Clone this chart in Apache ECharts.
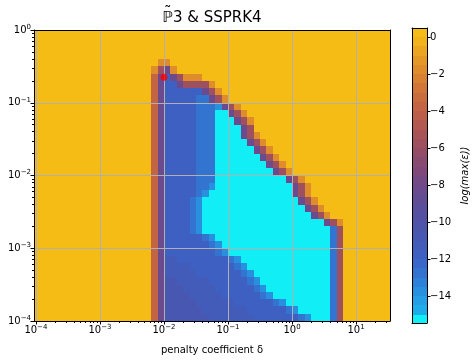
<!DOCTYPE html>
<html><head><meta charset="utf-8">
<script src="https://cdn.jsdelivr.net/npm/echarts@6/dist/echarts.min.js"></script>
<style>html,body{margin:0;padding:0;background:#fff}#c{width:474px;height:361px}</style>
</head><body><div id="c"></div>
<script>
// ---------------- DATA ----------------
// log10(penalty coefficient δ) at the centre of each grid column
const deltaExp = [-3.95,-3.85,-3.75,-3.65,-3.55,-3.45,-3.35,-3.25,-3.15,-3.05,
  -2.95,-2.85,-2.75,-2.65,-2.55,-2.45,-2.35,-2.25,-2.15,-2.05,
  -1.95,-1.85,-1.75,-1.65,-1.55,-1.45,-1.35,-1.25,-1.15,-1.05,
  -0.95,-0.85,-0.75,-0.65,-0.55,-0.45,-0.35,-0.25,-0.15,-0.05,
  0.05,0.15,0.25,0.35,0.45,0.55,0.65,0.75,0.85,0.95,
  1.05,1.15,1.25,1.35,1.45,1.55];
// log10 of the vertical-axis quantity at the centre of each grid row (top to bottom)
const tauExp = [-0.05,-0.15,-0.25,-0.35,-0.45,-0.55,-0.65,-0.75,-0.85,-0.95,
  -1.05,-1.15,-1.25,-1.35,-1.45,-1.55,-1.65,-1.75,-1.85,-1.95,
  -2.05,-2.15,-2.25,-2.35,-2.45,-2.55,-2.65,-2.75,-2.85,-2.95,
  -3.05,-3.15,-3.25,-3.35,-3.45,-3.55,-3.65,-3.75,-3.85,-3.95];
// log(max(ε)) value for each code used in the rows below
const codeValue = {Y:0.2, o:-1.6, r:-3.8, m:-5.5, p:-8.2, i:-10.8, j:-11.3, b:-11.8, c:-12.8, l:-13.8, C:-15.2};
// rows of the value matrix (run-length: code + repeat count)
const zRows = [
  "Y56","Y56","Y56","Y56",
  "Y19 o o Y35",
  "Y18 o m p o Y34",
  "Y18 r p b p m o3 Y30",
  "Y18 r p b2 p m4 o Y28",
  "Y18 r p b6 p m o Y27",
  "Y18 r p b5 c2 p m o Y26",
  "Y18 r p b5 c3 l p m o Y24",
  "Y18 r p b5 c3 C2 p m o Y23",
  "Y18 r p b5 c3 C3 p m o Y22",
  "Y18 r p b5 c3 C4 p m Y22",
  "Y18 r p b5 c3 C4 p m o Y21",
  "Y18 r p b5 c3 C5 p m o Y20",
  "Y18 r p b5 c3 C6 p m o Y19",
  "Y18 r p b5 c3 C7 p m o Y18",
  "Y18 r p b5 c3 C8 p m o Y17",
  "Y18 r p b5 c3 C9 p m o Y16",
  "Y18 r p b5 c3 C11 p m o Y14",
  "Y18 r p b5 c2 l C12 p m o Y13",
  "Y18 r p b5 c l C13 p m o Y13",
  "Y18 r p b4 c l C15 p m o Y12",
  "Y18 r p b4 c l C16 p m o Y11",
  "Y18 r p b4 c l C17 p m o Y10",
  "Y18 r p b4 c l C19 p m o Y8",
  "Y18 r p b4 c l C20 c m Y8",
  "Y18 r p b6 c l C18 c m Y8",
  "Y18 r p b7 c l C17 c m Y8",
  "Y18 r p b8 c l C16 c m Y8",
  "Y18 r p j2 b8 c l C14 c m Y8",
  "Y18 r p j4 b7 c l C13 c m Y8",
  "Y18 r p j5 b7 c l C12 c m Y8",
  "Y18 r p i2 j5 b6 c l C11 c m Y8",
  "Y18 r p i3 j5 b6 c l C10 c m Y8",
  "Y18 r p i4 j5 b6 c l C9 c m Y8",
  "Y18 r p i5 j6 b6 c l C7 c m Y8",
  "Y18 r p i6 j7 b6 c l C5 c m Y8",
  "Y18 r p i7 j7 b7 c l C3 c m Y8"
];
// contour levels (colour bands), top to bottom
const levels = [0.5,0,-0.5,-1,-1.5,-2,-2.5,-3,-3.5,-4,-4.5,-5,-5.5,-6,-6.5,-7,-7.5,-8,-8.5,-9,-9.5,
  -10,-10.5,-11,-11.5,-12,-12.5,-13,-13.5,-14,-14.5,-15,-15.45];
const xTickExp = [-4,-3,-2,-1,0,1];
const yTickExp = [-4,-3,-2,-1,0];
const cbTicks = [0,-2,-4,-6,-8,-10,-12,-14];
const markerPoint = [0.01, 0.225];   // (δ, value) of the red dot
const titleMain = '\u21193 & SSPRK4';

// ---------------- STYLE ----------------
const X_MIN = -4.03, X_MAX = 1.53, Y_MIN = -4, Y_MAX = 0;
const FONT = 'DejaVu Sans';
const CMAP = [
  [0.5,[246,192,20]],[0,[244,184,22]],[-1,[233,158,36]],[-2,[220,134,47]],[-3,[206,113,58]],
  [-4,[191,96,70]],[-5,[174,85,83]],[-6,[154,78,98]],[-7,[132,74,116]],[-8,[111,74,137]],
  [-9,[93,78,153]],[-10,[79,82,166]],[-11,[69,89,180]],[-12,[60,98,198]],[-13,[48,122,212]],
  [-14,[38,150,226]],[-15,[28,180,236]],[-15.45,[24,190,240]]
];
const LAST_BAND = 'rgb(18,238,246)';
function cmapAt(v){
  for (let i=0;i<CMAP.length-1;i++){
    const a=CMAP[i], b=CMAP[i+1];
    if (v<=a[0] && v>=b[0]){
      const t=(a[0]-v)/(a[0]-b[0]);
      const c=a[1].map((x,j)=>Math.round(x+(b[1][j]-x)*t));
      return 'rgb('+c.join(',')+')';
    }
  }
  return v>CMAP[0][0] ? 'rgb('+CMAP[0][1].join(',')+')' : LAST_BAND;
}
const bandColors = [];
for (let i=0;i<levels.length-1;i++){
  bandColors.push(i===levels.length-2 ? LAST_BAND : cmapAt((levels[i]+levels[i+1])/2));
}
function colorOf(z){
  for (let i=0;i<levels.length-1;i++){ if (z<=levels[i] && z>levels[i+1]) return bandColors[i]; }
  return z>levels[0] ? bandColors[0] : bandColors[bandColors.length-1];
}
function decodeRow(s){
  const out=[];
  s.trim().split(/\s+/).forEach(t=>{ const n=t.length>1?parseInt(t.slice(1),10):1; for(let i=0;i<n;i++) out.push(t[0]); });
  while (out.length<deltaExp.length) out.push('Y');
  return out.slice(0,deltaExp.length);
}
const cells=[];
zRows.forEach((row,r)=>{ decodeRow(row).forEach((ch,k)=>{ cells.push([deltaExp[k], tauExp[r], codeValue[ch], k, r]); }); });
const HX=(deltaExp[1]-deltaExp[0])/2, HY=(tauExp[0]-tauExp[1])/2;

const bands=[];
for (let i=0;i<levels.length-1;i++) bands.push([levels[i+1], levels[i], i]);

function minorList(lo,hi){
  const out=[];
  for (let d=Math.floor(lo)-1; d<=Math.ceil(hi); d++){
    for (let m=2;m<=9;m++){ const v=d+Math.log10(m); if (v>=lo && v<=hi) out.push(v); }
  }
  return out;
}
function expLabel(v){ const e=Math.round(v); const s=e<0?'\u2212'+(-e):String(e); return '{b|10}{s|'+s+'}'; }
const RICH = {
  b:{fontSize:10, lineHeight:13, fontFamily:FONT, color:'#000'},
  s:{fontSize:7, lineHeight:7, verticalAlign:'top', fontFamily:FONT, color:'#000'}
};
const LINE = {color:'#000', width:1};
const GRIDLINE = {color:'#b0b0b0', width:1};

// title placement (tilde over the first glyph)
const TITLE_X = 212, TITLE_Y = 18, TITLE_FONT = '15px "DejaVu Sans"';
const mctx = document.createElement('canvas').getContext('2d');
mctx.font = TITLE_FONT;
const wAll = mctx.measureText(titleMain).width, wP = mctx.measureText(titleMain[0]).width;
const tildeX = TITLE_X - wAll/2 + wP/2;

function snapRect(a,b,col){
  const x0=Math.round(a[0]), y0=Math.round(a[1]), x1=Math.round(b[0]), y1=Math.round(b[1]);
  return {type:'rect', shape:{x:x0, y:y0, width:x1-x0, height:y1-y0}, style:{fill:col}};
}

const chart = echarts.init(document.getElementById('c'), null, {renderer:'canvas'});
chart.setOption({
  animation:false,
  backgroundColor:'#fff',
  textStyle:{fontFamily:FONT},
  grid:[
    {left:34, top:30, width:356, height:291, containLabel:false, outerBoundsMode:'none'},
    {left:412, top:28, width:15, height:295, containLabel:false, outerBoundsMode:'none'}
  ],
  graphic:[
    {type:'text', x:TITLE_X, y:TITLE_Y, style:{text:titleMain, font:TITLE_FONT, fill:'#000', align:'center', verticalAlign:'middle'}},
    {type:'text', x:tildeX, y:TITLE_Y-5, style:{text:'\u02dc', font:TITLE_FONT, fill:'#000', align:'center', verticalAlign:'middle'}}
  ],
  xAxis:[
    {type:'value', gridIndex:0, min:X_MIN, max:X_MAX, position:'bottom', z:5,
     axisLine:{show:true, onZero:false, lineStyle:LINE},
     axisTick:{show:true, length:3.5, customValues:xTickExp, lineStyle:LINE},
     axisLabel:{show:true, customValues:xTickExp, margin:3, formatter:expLabel, rich:RICH},
     splitLine:{show:true, lineStyle:GRIDLINE},
     name:'penalty coefficient \u03b4', nameLocation:'middle', nameGap:24, nameMoveOverlap:false,
     nameTextStyle:{fontSize:10, color:'#000', fontFamily:FONT}},
    {type:'value', gridIndex:0, min:X_MIN, max:X_MAX, position:'bottom', z:5,
     axisLine:{show:false, onZero:false}, axisTick:{show:true, length:2, customValues:minorList(X_MIN,X_MAX), lineStyle:LINE},
     axisLabel:{show:false}, splitLine:{show:false}},
    {type:'value', gridIndex:0, min:X_MIN, max:X_MAX, position:'top', z:5,
     axisLine:{show:true, onZero:false, lineStyle:LINE}, axisTick:{show:false}, axisLabel:{show:false}, splitLine:{show:false}},
    {type:'value', gridIndex:1, min:0, max:1, position:'bottom', z:5,
     axisLine:{show:true, onZero:false, lineStyle:LINE}, axisTick:{show:false}, axisLabel:{show:false}, splitLine:{show:false}},
    {type:'value', gridIndex:1, min:0, max:1, position:'top', z:5,
     axisLine:{show:true, onZero:false, lineStyle:LINE}, axisTick:{show:false}, axisLabel:{show:false}, splitLine:{show:false}}
  ],
  yAxis:[
    {type:'value', gridIndex:0, min:Y_MIN, max:Y_MAX, position:'left', z:5,
     axisLine:{show:true, onZero:false, lineStyle:LINE},
     axisTick:{show:true, length:3.5, customValues:yTickExp, lineStyle:LINE},
     axisLabel:{show:true, customValues:yTickExp, margin:3, formatter:expLabel, rich:RICH},
     splitLine:{show:true, lineStyle:GRIDLINE}},
    {type:'value', gridIndex:0, min:Y_MIN, max:Y_MAX, position:'left', z:5,
     axisLine:{show:false, onZero:false}, axisTick:{show:true, length:2, customValues:minorList(Y_MIN,Y_MAX), lineStyle:LINE},
     axisLabel:{show:false}, splitLine:{show:false}},
    {type:'value', gridIndex:0, min:Y_MIN, max:Y_MAX, position:'right', z:5,
     axisLine:{show:true, onZero:false, lineStyle:LINE}, axisTick:{show:false}, axisLabel:{show:false}, splitLine:{show:false}},
    {type:'value', gridIndex:1, min:levels[levels.length-1], max:levels[0], position:'right', z:5,
     axisLine:{show:true, onZero:false, lineStyle:LINE},
     axisTick:{show:true, length:3.5, customValues:cbTicks, lineStyle:LINE},
     axisLabel:{show:true, customValues:cbTicks, margin:3, fontSize:10, color:'#000', fontFamily:FONT,
       formatter:v=>v<0?'\u2212'+(-v):String(v)},
     splitLine:{show:false},
     name:'log(max(\u03b5))', nameLocation:'middle', nameRotate:90, nameGap:33, nameMoveOverlap:false,
     nameTextStyle:{fontSize:10, fontStyle:'italic', color:'#000', fontFamily:FONT}},
    {type:'value', gridIndex:1, min:levels[levels.length-1], max:levels[0], position:'left', z:5,
     axisLine:{show:true, onZero:false, lineStyle:LINE}, axisTick:{show:false}, axisLabel:{show:false}, splitLine:{show:false}}
  ],
  series:[
    {type:'custom', xAxisIndex:0, yAxisIndex:0, z:1, silent:true,
     dimensions:['x','y','z','k','r'], encode:{x:0, y:1},
     data:cells,
     renderItem:function(params, api){
       const xc=api.value(0), yc=api.value(1), z=api.value(2), k=api.value(3);
       let x0=xc-HX, x1=xc+HX, y0=yc-HY, y1=yc+HY;
       if (k===0) x0=X_MIN;
       if (k===deltaExp.length-1) x1=X_MAX;
       x0=Math.max(x0,X_MIN); x1=Math.min(x1,X_MAX); y0=Math.max(y0,Y_MIN); y1=Math.min(y1,Y_MAX);
       if (x1<=x0 || y1<=y0) return null;
       return snapRect(api.coord([x0,y1]), api.coord([x1,y0]), colorOf(z));
     }},
    {type:'custom', xAxisIndex:3, yAxisIndex:3, z:1, silent:true,
     dimensions:['lo','hi','i'], encode:{y:[0,1]},
     data:bands,
     renderItem:function(params, api){
       const lo=api.value(0), hi=api.value(1), i=api.value(2);
       return snapRect(api.coord([0,hi]), api.coord([1,lo]), bandColors[i]);
     }},
    {type:'scatter', xAxisIndex:0, yAxisIndex:0, z:10, silent:true, symbolSize:7,
     itemStyle:{color:'#ff0000'},
     data:[[Math.log10(markerPoint[0]), Math.log10(markerPoint[1])]]}
  ]
});
</script></body></html>
